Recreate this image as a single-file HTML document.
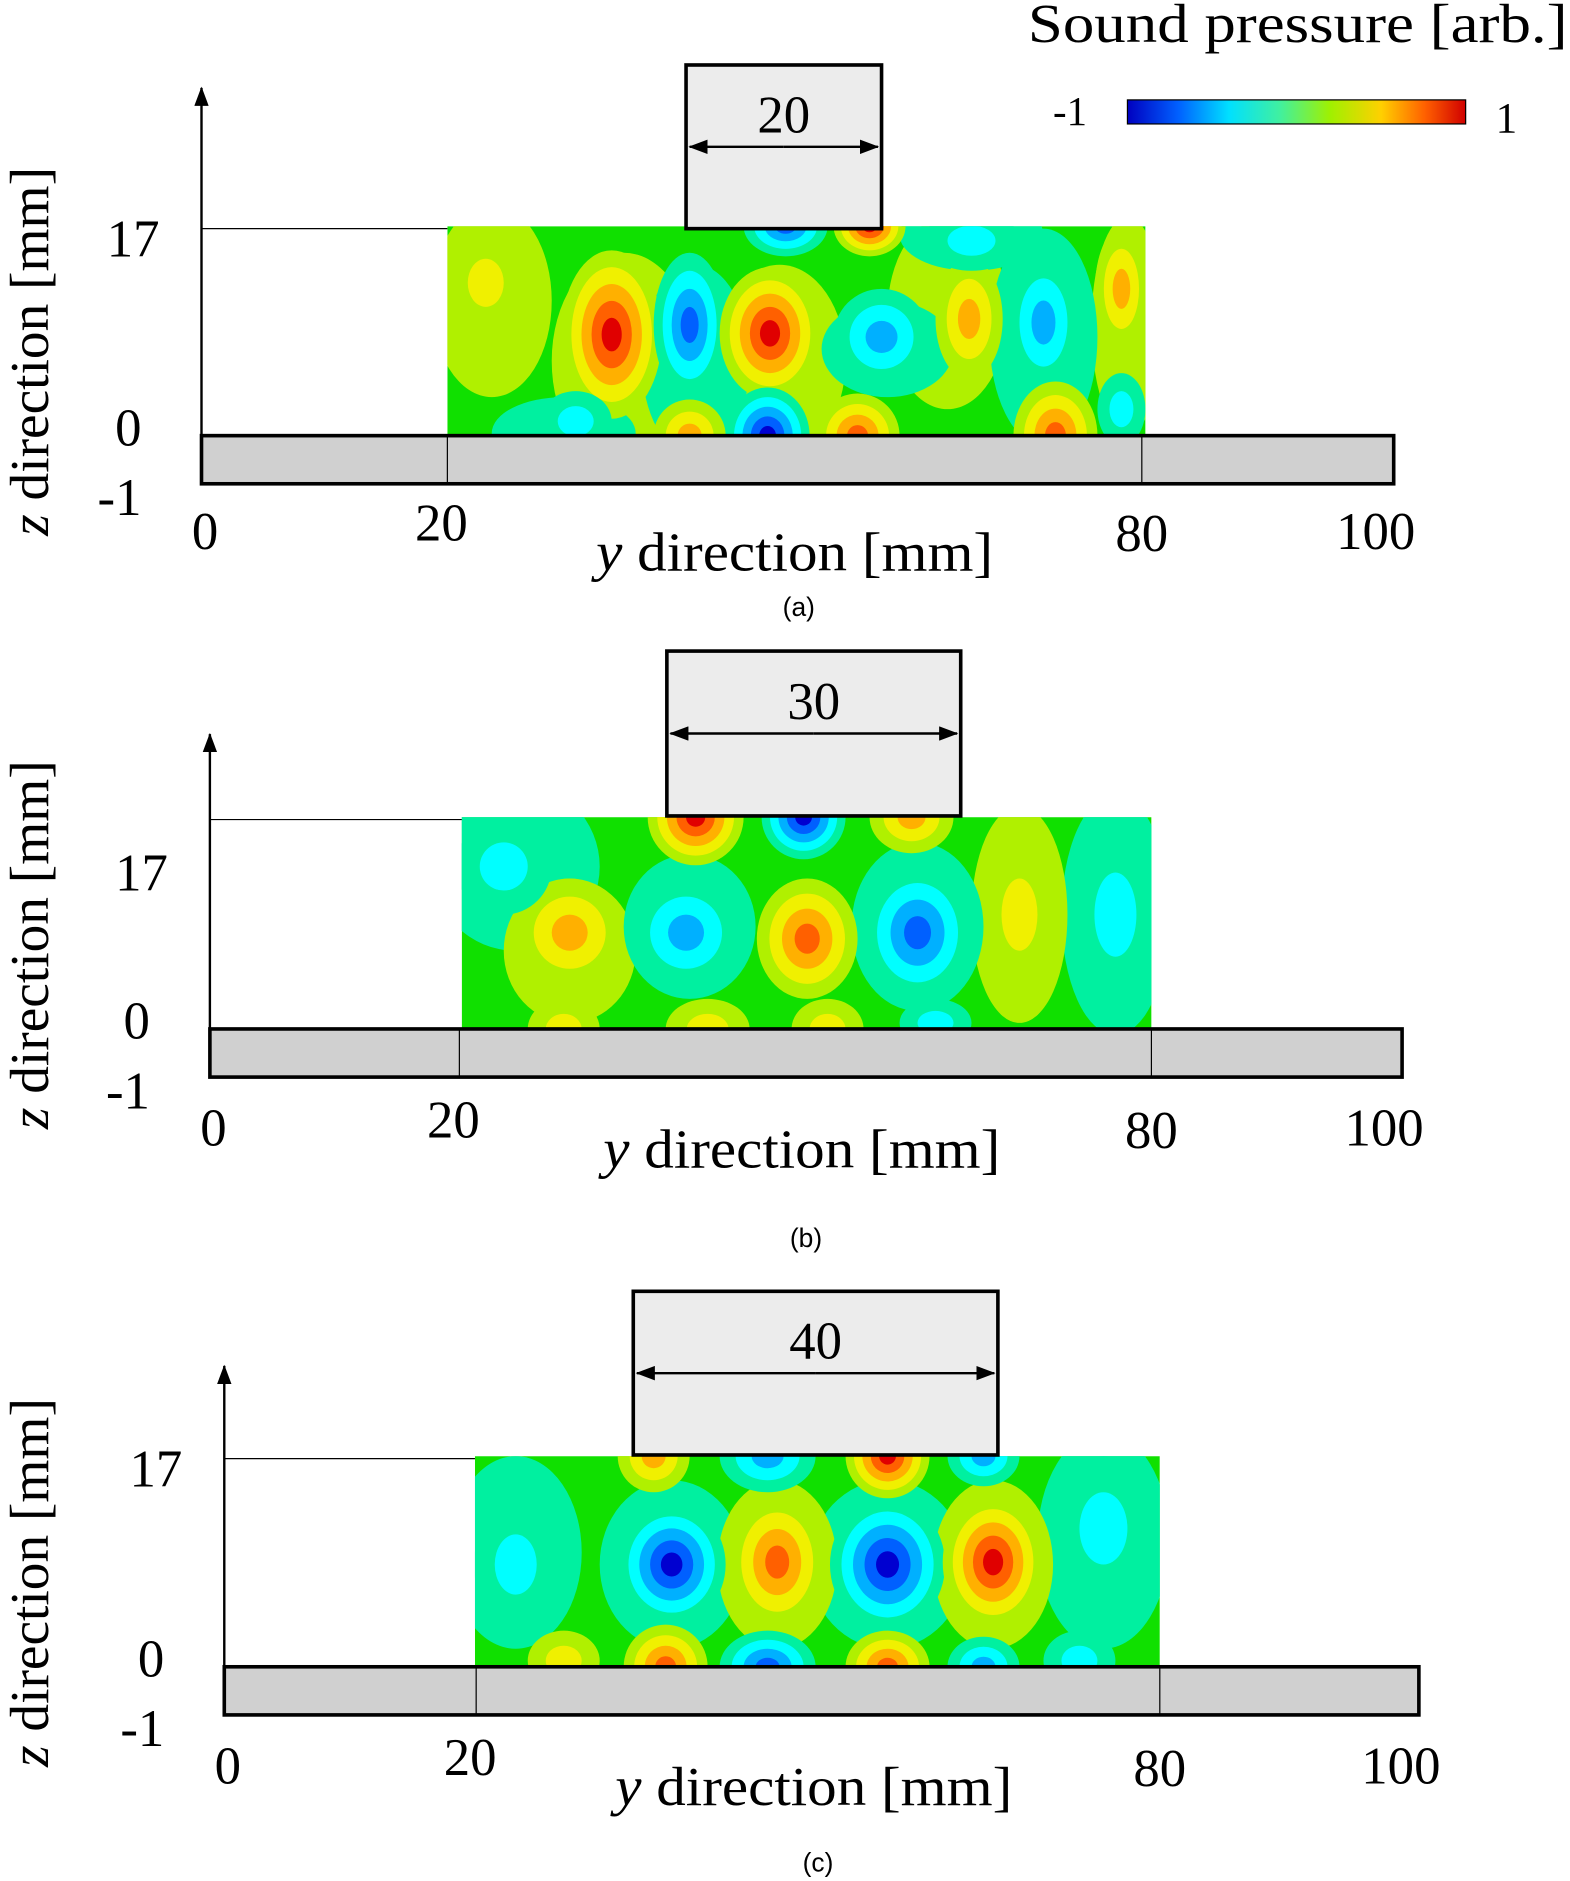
<!DOCTYPE html>
<html><head><meta charset="utf-8"><style>
html,body{margin:0;padding:0;background:#fff}
svg{display:block}
text{font-family:"Liberation Serif",serif;fill:#000}
.s{font-family:"Liberation Sans",sans-serif}
</style></head><body>
<svg id="s" width="1570" height="1881" viewBox="0 0 1309 1563" preserveAspectRatio="none" xmlns="http://www.w3.org/2000/svg">
<defs>
<linearGradient id="cb" x1="0" x2="1" y1="0" y2="0">
<stop offset="0" stop-color="#0000c0"/><stop offset="0.15" stop-color="#0060ff"/><stop offset="0.3" stop-color="#00e0ff"/><stop offset="0.45" stop-color="#40f0a0"/><stop offset="0.6" stop-color="#a0f000"/><stop offset="0.75" stop-color="#ffd000"/><stop offset="0.88" stop-color="#ff6000"/><stop offset="1" stop-color="#d00000"/>
</linearGradient>
<clipPath id="ca"><rect x="373" y="188" width="582" height="173"/></clipPath>
<clipPath id="cbp"><rect x="385" y="679" width="575" height="176"/></clipPath>
<clipPath id="cc"><rect x="396" y="1210" width="571" height="175"/></clipPath>
<marker id="ar" markerWidth="16" markerHeight="12" refX="15" refY="6" orient="auto" markerUnits="userSpaceOnUse"><path d="M0,0 L16,6 L0,12 z" fill="#000"/></marker>
</defs>
<text x="857" y="35" font-size="46" textLength="450" lengthAdjust="spacingAndGlyphs">Sound pressure [arb.]</text>
<text x="878" y="104" font-size="34">-1</text>
<rect x="940" y="83" width="282" height="20" fill="url(#cb)" stroke="#000" stroke-width="1"/>
<text x="1247" y="110" font-size="36">1</text>
<g id="a"></g><g id="b"></g><g id="c"></g>
</svg>
<script>
const NS="http://www.w3.org/2000/svg";
function el(p,t,a,txt){const e=document.createElementNS(NS,t);for(const k in a)e.setAttribute(k,a[k]);if(txt)e.textContent=txt;p.appendChild(e);return e;}
const pos=["#b0f000","#f0f000","#ffb000","#ff6000","#e00000"];
const neg=["#00f0a0","#00ffff","#00b0ff","#0060ff","#0000d0"];
function panel(g,P){
 const S=document.getElementById(g);
 const h=el(S,"g",{"clip-path":"url(#"+P.clip+")"});
 el(h,"rect",{x:P.hx,y:P.hy,width:P.hw,height:P.hh,fill:"#10e000"});
 for(const b of P.bg){const [cx,cy,rx,ry,s]=b;el(h,"ellipse",{cx:cx,cy:cy,rx:rx,ry:ry,fill:s>0?pos[0]:neg[0]});}
 for(const b of P.blobs){const [cx,cy,rx,ry,s,l]=b;const pal=s>0?pos:neg;
  for(let i=0;i<l;i++){const f=1-i/l;el(h,"ellipse",{cx:cx,cy:cy,rx:rx*f,ry:ry*f,fill:pal[i]});}}
 el(S,"line",{x1:P.ax,y1:P.bt,x2:P.ax,y2:P.at,stroke:"#000","stroke-width":2,"marker-end":"url(#ar)"});
 el(S,"line",{x1:P.ax,y1:P.hy+2,x2:P.hx,y2:P.hy+2,stroke:"#000","stroke-width":1});
 el(S,"rect",{x:P.ax,y:P.bt,width:P.bw,height:40,fill:"#d0d0d0",stroke:"#000","stroke-width":3});
 el(S,"line",{x1:P.l1,y1:P.bt,x2:P.l1,y2:P.bt+40,stroke:"#000","stroke-width":1});
 el(S,"line",{x1:P.l2,y1:P.bt,x2:P.l2,y2:P.bt+40,stroke:"#000","stroke-width":1});
 el(S,"rect",{x:P.bx,y:P.by,width:P.bxw,height:P.byh,fill:"#ececec",stroke:"#000","stroke-width":3});
 const my=P.by+P.byh*0.5;
 el(S,"line",{x1:P.bx+P.bxw/2,y1:my,x2:P.bx+P.bxw-3,y2:my,stroke:"#000","stroke-width":2,"marker-end":"url(#ar)"});
 el(S,"line",{x1:P.bx+P.bxw/2,y1:my,x2:P.bx+3,y2:my,stroke:"#000","stroke-width":2,"marker-end":"url(#ar)"});
 el(S,"text",{x:P.bx+P.bxw/2,y:my-12,"font-size":44,"text-anchor":"middle"},P.w);
 el(S,"text",{x:P.ax-35,y:P.y17,"font-size":44,"text-anchor":"end"},"17");
 el(S,"text",{x:P.ax-50,y:P.bt+8,"font-size":44,"text-anchor":"end"},"0");
 el(S,"text",{x:P.ax-50,y:P.bt+66,"font-size":44,"text-anchor":"end"},"-1");
 const ty=P.bt+P.tk;
 el(S,"text",{x:P.ax+3,y:ty+12,"font-size":44,"text-anchor":"middle"},"0");
 el(S,"text",{x:P.l1-5,y:ty+5,"font-size":44,"text-anchor":"middle"},"20");
 el(S,"text",{x:P.l2,y:ty+14,"font-size":44,"text-anchor":"middle"},"80");
 el(S,"text",{x:P.ax+P.bw-15,y:ty+12,"font-size":44,"text-anchor":"middle"},"100");
 const t=el(S,"text",{x:P.xl-165,y:ty+30,"font-size":46,textLength:331,lengthAdjust:"spacingAndGlyphs"});
 el(t,"tspan",{"font-style":"italic"},"y");el(t,"tspan",{}," direction [mm]");
 const z=el(S,"text",{x:0,y:0,"font-size":46,"text-anchor":"middle",transform:"translate(40,"+(P.bt-70)+") rotate(-90)"});
 el(z,"tspan",{"font-style":"italic"},"z");el(z,"tspan",{}," direction [mm]");
 el(S,"text",{x:P.xl+4,y:P.cap,"font-size":22,"text-anchor":"middle",class:"s"},P.c);
}
panel("a",{clip:"ca",hx:373,hy:188,hw:582,hh:173,ax:168,at:73,bt:362,bw:994,l1:373,l2:952,bx:572,by:54,bxw:163,byh:136,w:"20",y17:213,tk:82,xl:662,cap:512,c:"(a)",
bg:[[410,250,50,80,1],[520,300,60,90,1],[650,300,55,80,1],[790,260,50,80,1],[940,270,30,90,1],[580,300,45,80,-1],[740,290,55,40,-1],[870,280,45,90,-1],[810,195,60,30,-1],[470,360,60,30,-1]],
blobs:[[510,278,42,70,1,5],[575,270,30,60,-1,4],[642,277,42,55,1,5],[735,280,40,40,-1,3],[808,265,28,50,1,3],[870,268,30,55,-1,3],[935,240,22,50,1,3],[405,235,30,40,1,2],[655,188,35,25,-1,4],[725,188,30,25,1,5],[810,200,40,25,-1,2],[640,362,35,40,-1,5],[715,362,35,35,1,4],[880,362,35,45,1,4],[575,362,30,30,1,3],[480,350,30,25,-1,2],[935,340,20,30,-1,2]]});
panel("b",{clip:"cbp",hx:385,hy:679,hw:575,hh:176,ax:175,at:610,bt:855,bw:994,l1:383,l2:960,bx:556,by:541,bxw:245,byh:137,w:"30",y17:740,tk:85,xl:668,cap:1036,c:"(b)",
bg:[[430,720,70,70,-1],[930,760,45,100,-1],[850,760,40,90,1],[475,790,55,60,1],[575,770,55,60,-1],[765,770,55,70,-1]],
blobs:[[475,775,45,45,1,3],[572,775,45,45,-1,3],[673,780,42,50,1,4],[765,775,45,55,-1,4],[850,760,30,60,1,2],[930,760,35,70,-1,2],[420,720,40,40,-1,2],[580,679,40,40,1,5],[670,679,35,35,-1,5],[760,679,35,30,1,3],[470,855,30,25,1,2],[590,855,35,25,1,2],[690,855,30,25,1,2],[780,850,30,20,-1,2]]});
panel("c",{clip:"cc",hx:396,hy:1210,hw:571,hh:175,ax:187,at:1135,bt:1385,bw:996,l1:397,l2:967,bx:528,by:1073,bxw:304,byh:136,w:"40",y17:1235,tk:85,xl:678,cap:1555,c:"(c)",
bg:[[430,1290,55,80,-1],[920,1280,55,90,-1],[560,1300,60,70,-1],[740,1300,65,70,-1],[648,1300,50,70,1],[828,1300,50,70,1]],
blobs:[[560,1300,45,50,-1,5],[648,1298,40,55,1,4],[740,1300,48,55,-1,5],[828,1298,42,55,1,5],[430,1300,35,50,-1,2],[920,1270,40,60,-1,2],[545,1210,30,30,1,3],[640,1210,40,30,-1,3],[740,1210,35,35,1,5],[820,1210,30,25,-1,3],[555,1385,35,35,1,4],[640,1385,40,30,-1,4],[740,1385,35,30,1,4],[820,1385,30,25,-1,3],[470,1380,30,25,1,2],[900,1380,30,25,-1,2]]});
</script>
</body></html>
